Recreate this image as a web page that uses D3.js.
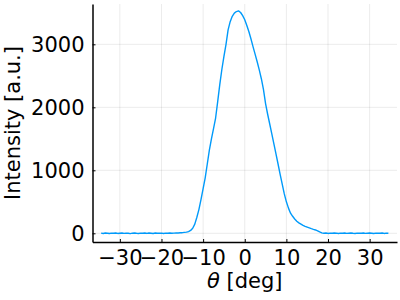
<!DOCTYPE html>
<html>
<head>
<meta charset="utf-8">
<script src="https://cdn.jsdelivr.net/npm/d3@7"></script>
<style>
  body { margin: 0; background: #fff; }
  svg { display: block; font-family: "DejaVu Sans", sans-serif; }
</style>
</head>
<body>
<script>
//data
var angleDeg = [
    -34.5, -34, -33.5, -33, -32.5, -32, -31.5, -31, -30.5, -30,
    -29.5, -29, -28.5, -28, -27.5, -27, -26.5, -26, -25.5, -25,
    -24.5, -24, -23.5, -23, -22.5, -22, -21.5, -21, -20.5, -20,
    -19.5, -19, -18.5, -18, -17.5, -17, -16.5,
    -16, -15.5, -15, -14.5, -14, -13.5, -13, -12.5, -12, -11.5,
    -11, -10.5, -10, -9.5, -9, -8.5, -8, -7.5, -7, -6.5,
    -6, -5.5, -5, -4.5, -4, -3.5, -3, -2.5, -2, -1.5,
    -1, -0.5, 0, 0.5, 1, 1.5, 2, 2.5, 3, 3.5,
    4, 4.5, 5, 5.5, 6, 6.5, 7, 7.5, 8, 8.5,
    9, 9.5, 10, 10.5, 11, 11.5, 12, 12.5, 13, 13.5,
    14, 14.5, 15, 15.5, 16, 16.5, 17, 17.5, 18, 18.5,
    19, 19.5, 20, 20.5, 21, 21.5, 22, 22.5, 23, 23.5,
    24, 24.5, 25, 25.5, 26, 26.5, 27, 27.5, 28, 28.5,
    29, 29.5, 30, 30.5, 31, 31.5, 32, 32.5, 33, 33.5,
    34, 34.5
];
var intensity = [
    2, -3, 4, 1, -4, 3, 0, 5, -2, 2,
    4, -1, 3, 1, -5, 2, 4, 0, -3, 3,
    1, 5, -2, 4, 1, -3, 4, 2, 0, 3,
    -4, 2, 1, 4, 2, 3, 5,
    6, 8, 10, 14, 18, 27, 45, 80, 145, 255,
    380, 540, 710, 880, 1100, 1320, 1500, 1660, 1830, 2090,
    2360, 2600, 2810, 3000, 3230, 3360, 3445, 3495, 3520, 3530,
    3505, 3455, 3390, 3300, 3200, 3085, 2960, 2840, 2720, 2590,
    2450, 2280, 2060, 1890, 1735, 1580, 1420, 1260, 1100, 935,
    780, 625, 500, 400, 320, 270, 228, 192, 165, 145,
    125, 110, 98, 86, 74, 63, 53, 40, 22, 6,
    2, 4, -2, 3, 1, 4, 2, -3, 3, 1,
    4, -1, 2, 5, 1, -2, 3, 0, 2, 4,
    -1, 2, 4, 1, -4, 3, 2, 1, 4, -2,
    3, 1
];
var xTicks = [-30, -20, -10, 0, 10, 20, 30];
var yTicks = [0, 1000, 2000, 3000];
var yLimits = [-138, 3640];

(function(){

var width = 400,
    height = 300,
    plotLeft = 92.5,
    plotRight = 397,
    plotTop = 4,
    plotBottom = 242,
    fontSize = "21px";

var svg = d3.select("body")
    .append("svg")
    .attr("width", width)
    .attr("height", height);

//x limits with a 3% margin like the original
var xExt = d3.extent(angleDeg),
    xPad = (xExt[1] - xExt[0]) * 0.03;

var x = d3.scaleLinear()
    .domain([xExt[0] - xPad, xExt[1] + xPad])
    .range([plotLeft, plotRight]);

var y = d3.scaleLinear()
    .domain(yLimits)
    .range([plotBottom, plotTop]);

//grid lines
svg.append("g").selectAll("line")
    .data(xTicks)
    .enter()
    .append("line")
    .attr("x1", function(d){ return x(d); })
    .attr("x2", function(d){ return x(d); })
    .attr("y1", plotTop)
    .attr("y2", plotBottom)
    .attr("stroke", "#000")
    .attr("stroke-opacity", 0.1)
    .attr("stroke-width", 0.8);

svg.append("g").selectAll("line")
    .data(yTicks)
    .enter()
    .append("line")
    .attr("x1", plotLeft)
    .attr("x2", plotRight)
    .attr("y1", function(d){ return y(d); })
    .attr("y2", function(d){ return y(d); })
    .attr("stroke", "#000")
    .attr("stroke-opacity", 0.1)
    .attr("stroke-width", 0.8);

//the measured curve
var line = d3.line()
    .x(function(d, i){ return x(angleDeg[i]); })
    .y(function(d){ return y(d); });

svg.append("path")
    .datum(intensity)
    .attr("fill", "none")
    .attr("stroke", "#009afa")
    .attr("stroke-width", 1.4)
    .attr("stroke-linejoin", "round")
    .attr("d", line);

//axes
var xAxis = svg.append("g")
    .attr("transform", "translate(0," + plotBottom + ")")
    .call(d3.axisBottom(x)
        .tickValues(xTicks)
        .tickSizeInner(-3)
        .tickSizeOuter(0)
        .tickPadding(8));

var yAxis = svg.append("g")
    .attr("transform", "translate(" + plotLeft + ",0)")
    .call(d3.axisLeft(y)
        .tickValues(yTicks)
        .tickFormat(d3.format("d"))
        .tickSizeInner(-3)
        .tickSizeOuter(0)
        .tickPadding(8));

[xAxis, yAxis].forEach(function(g){
    g.attr("font-size", null).attr("font-family", null);
    g.select(".domain").attr("stroke", "#000").attr("stroke-width", 1.5);
    g.selectAll(".tick line").attr("stroke", "#000").attr("stroke-width", 1);
    g.selectAll(".tick text")
        .attr("fill", "#000")
        .style("font-size", fontSize);
});

//axis titles
var xTitle = svg.append("text")
    .attr("x", (plotLeft + plotRight) / 2)
    .attr("y", 288)
    .attr("text-anchor", "middle")
    .style("font-size", fontSize);
xTitle.append("tspan").style("font-style", "italic").text("θ");
xTitle.append("tspan").text(" [deg]");

svg.append("text")
    .attr("transform", "translate(20," + (plotTop + plotBottom) / 2 + ") rotate(-90)")
    .attr("text-anchor", "middle")
    .style("font-size", fontSize)
    .text("Intensity [a.u.]");

})();
</script>
</body>
</html>
